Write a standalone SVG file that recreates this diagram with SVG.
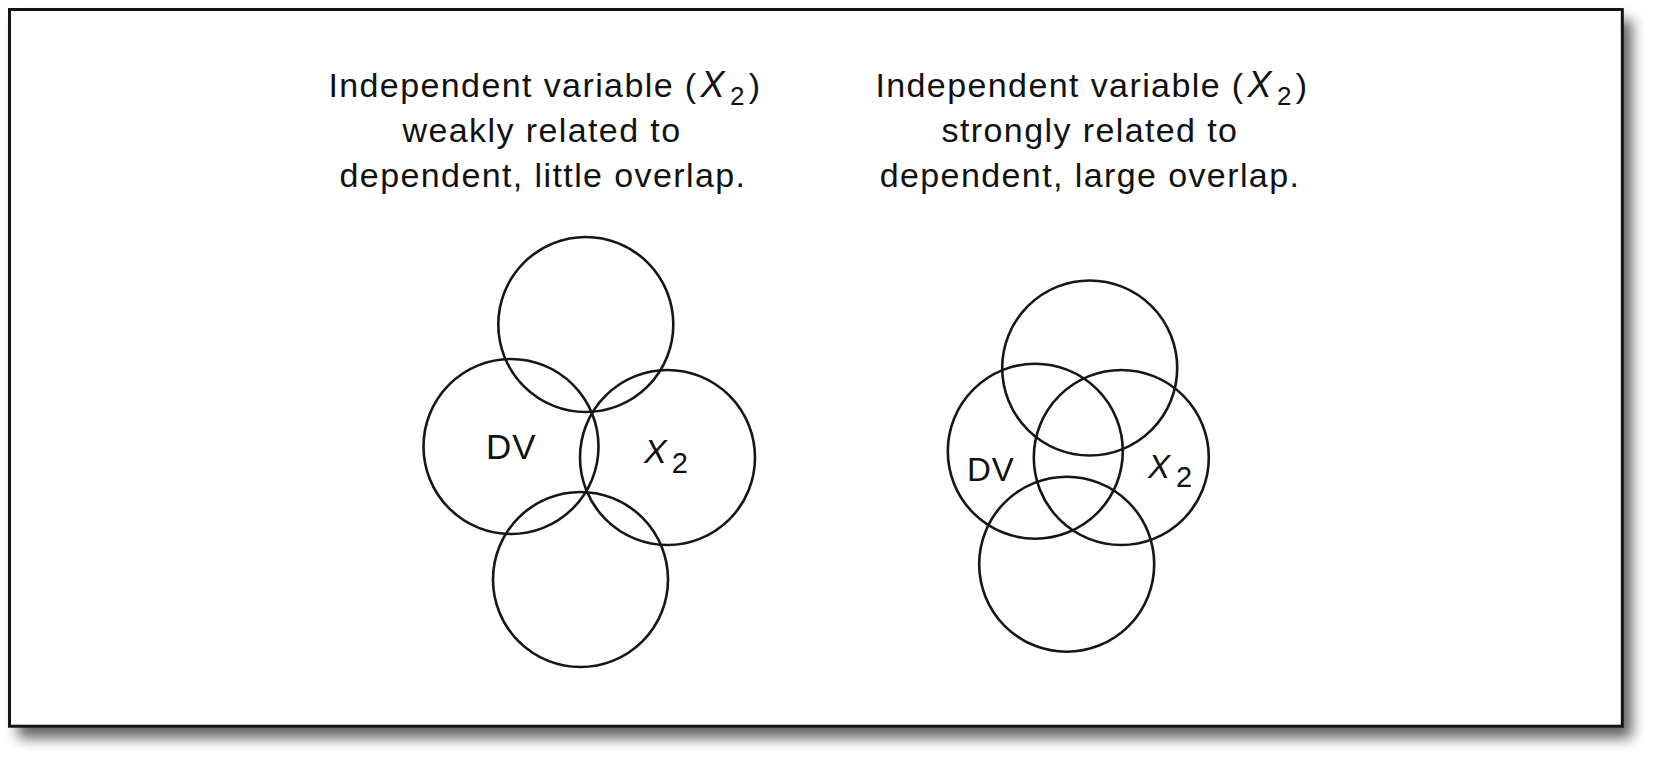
<svg xmlns="http://www.w3.org/2000/svg" width="1658" height="762" viewBox="0 0 1658 762">
<defs>
<filter id="shadow" x="-5%" y="-5%" width="112%" height="120%">
<feGaussianBlur stdDeviation="7"/>
</filter>
<style>
.title{font-family:"Liberation Sans",Arial,Helvetica,sans-serif;font-size:34px;fill:#111;text-anchor:middle;letter-spacing:1.4px}
.lbl{font-family:"Liberation Sans",Arial,Helvetica,sans-serif;fill:#111;letter-spacing:1px}
.it{font-style:italic}
.c{fill:none;stroke:#161616;stroke-width:2.6}
</style>
</defs>
<rect x="0" y="0" width="1658" height="762" fill="#ffffff"/>
<g id="frame">
<rect x="18" y="20" width="1614" height="718" fill="#000" opacity="0.62" filter="url(#shadow)"/>
<rect x="9.5" y="9.5" width="1612.8" height="716.7" fill="#ffffff" stroke="#141414" stroke-width="3"/>
</g>
<g id="connectors"/>
<g id="panel-weak">
<g id="title-weak">
<text class="title" x="545" y="97">Independent variable (<tspan class="it" dx="3" font-size="36">X</tspan><tspan font-size="26" dx="4" dy="8">2</tspan><tspan dx="3" dy="-8">)</tspan></text>
<text class="title" x="542" y="142">weakly related to</text>
<text class="title" x="543" y="187">dependent, little overlap.</text>
</g>
<g id="weak-top"><circle class="c" cx="585.8" cy="324.5" r="87.5"/></g>
<g id="weak-dv"><circle class="c" cx="511" cy="446.5" r="87.5"/><text class="lbl" x="486" y="459" font-size="35">DV</text></g>
<g id="weak-x2"><circle class="c" cx="667.5" cy="457.5" r="87.5"/><text class="lbl" x="644" y="463" font-size="34"><tspan class="it">X</tspan><tspan font-size="29" dx="4" dy="10">2</tspan></text></g>
<g id="weak-bottom"><circle class="c" cx="580.5" cy="579.5" r="87.5"/></g>
</g>
<g id="panel-strong">
<g id="title-strong">
<text class="title" x="1092" y="97">Independent variable (<tspan class="it" dx="3" font-size="36">X</tspan><tspan font-size="26" dx="4" dy="8">2</tspan><tspan dx="3" dy="-8">)</tspan></text>
<text class="title" x="1090" y="142">strongly related to</text>
<text class="title" x="1090" y="187">dependent, large overlap.</text>
</g>
<g id="strong-top"><circle class="c" cx="1089.7" cy="368" r="87.5"/></g>
<g id="strong-dv"><circle class="c" cx="1035.3" cy="451.2" r="87.5"/><text class="lbl" x="967" y="481" font-size="33">DV</text></g>
<g id="strong-x2"><circle class="c" cx="1121.3" cy="457.5" r="87.5"/><text class="lbl" x="1148" y="478" font-size="33"><tspan class="it">X</tspan><tspan font-size="29" dx="5" dy="9">2</tspan></text></g>
<g id="strong-bottom"><circle class="c" cx="1066.7" cy="564.2" r="87.5"/></g>
</g>
</svg>
